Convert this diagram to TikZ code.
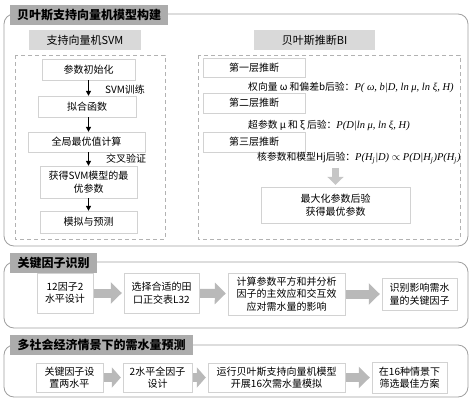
\documentclass[tikz,border=0pt]{standalone}
\usepackage{amsmath, amssymb}
\usepackage{fontspec}
\setmainfont{Noto Sans CJK SC}
\newfontfamily\latfont{Liberation Serif}
\usetikzlibrary{arrows.meta, calc, positioning}

\begin{document}
\begin{tikzpicture}[x=1pt, y=-1pt,
		box/.style={draw=gray!35, fill=white, align=center, inner sep=1pt, font=\fontsize{10}{12.5}\selectfont},
		bar/.style={fill=gray!65, inner sep=0pt, font=\bfseries\fontsize{12}{14}\selectfont},
		subbar/.style={fill=gray!30, inner sep=0pt, font=\fontsize{11}{13}\selectfont},
		panel/.style={draw=gray!75, line width=0.8pt, rounded corners=10pt},
		frame/.style={draw=gray!60, dash pattern=on 4pt off 3pt},
		lab/.style={inner sep=0pt, font=\fontsize{9.8}{11}\selectfont},
		fatarrow/.style={draw=gray!55, line width=9pt, -{Triangle[length=11pt,width=21pt]}, shorten <=1pt, shorten >=2pt},
		thinarrow/.style={line width=1.2pt, -{Triangle[length=5pt,width=5pt]}}
	]
	\useasboundingbox (0,0) rectangle (474,402);
	
	% Panels
	\draw[panel] (4,14) rectangle (468,246);
	\draw[panel] (4,262) rectangle (468,328);
	\draw[panel] (4,345) rectangle (468,397);
	\node[bar, minimum width=158pt, minimum height=20pt] (head1) at (89,15) {贝叶斯支持向量机模型构建};
	\node[bar, minimum width=87pt, minimum height=20pt] (head2) at (53.5,263) {关键因子识别};
	\node[bar, minimum width=183pt, minimum height=20pt] (head3) at (101.5,345) {多社会经济情景下的需水量预测};
	
	% SVM part
	\draw[frame] (15,55) rectangle (165,239);
	\node[subbar, minimum width=112pt, minimum height=20pt] (svm) at (85,40) {支持向量机SVM};
	\node[box, minimum width=93pt, minimum height=21pt] (init) at (88.5,69.5) {参数初始化};
	\node[box, minimum width=98pt, minimum height=21pt] (fit) at (87,106.5) {拟合函数};
	\node[box, minimum width=117pt, minimum height=20pt] (glob) at (86.5,142) {全局最优值计算};
	\node[box, minimum width=97pt, minimum height=32pt] (best) at (88.5,182) {获得SVM模型的最\\优参数};
	\node[box, minimum width=97pt, minimum height=22pt] (pred) at (88.5,222) {模拟与预测};
	\draw[thinarrow] (init.south) -- (init.south |- fit.north);
	\draw[thinarrow] (init.south |- fit.south) -- (init.south |- glob.north);
	\draw[thinarrow] (best.north |- glob.south) -- (best.north);
	\draw[thinarrow] (best.south) -- (pred.north);
	\node[lab, font=\fontsize{10}{12}\selectfont] (train) at (125,90) {SVM训练};
	\node[lab, font=\fontsize{10}{12}\selectfont] (cross) at (126,159) {交叉验证};
	
	% BI part
	\draw[frame] (198,55) rectangle (460,239);
	\node[subbar, minimum width=121pt, minimum height=20pt] (bi) at (314.5,40) {贝叶斯推断BI};
	\node[box, minimum width=102pt, minimum height=19pt] (lay1) at (254,67.5) {第一层推断};
	\node[lab, anchor=west] (post1) at (248,87) {权向量 ω 和偏差b后验：{\latfont\itshape\fontsize{10.5}{11}\selectfont P( ω, b|D, ln μ, ln ξ, H)}};
	\node[box, minimum width=102pt, minimum height=20pt] (lay2) at (254,103) {第二层推断};
	\node[lab, anchor=west] (post2) at (248,125) {超参数 μ 和 ξ 后验：{\latfont\itshape\fontsize{10.5}{11}\selectfont P(D|ln μ, ln ξ, H)}};
	\node[box, minimum width=102pt, minimum height=20pt] (lay3) at (254,142) {第三层推断};
	\node[lab, anchor=west] (post3) at (257,158) {核参数和模型Hj后验：{\latfont\itshape\fontsize{10.5}{11}\selectfont P(H\textsubscript{j}|D) $\propto$ P(D|H\textsubscript{j})P(H\textsubscript{j})}};
	\node[box, minimum width=149pt, minimum height=36pt] (maxp) at (335.5,205) {最大化参数后验\\获得最优参数};
	\draw[fatarrow, draw=gray!45, line width=7pt, -{Triangle[length=8pt,width=16pt]}] (maxp.north |- post3.south) ++(0,3) -- (maxp.north);
	
	% Key factors
	\node[box, minimum width=56pt, minimum height=40pt] (fac1) at (65,293) {12因子2\\水平设计};
	\node[box, minimum width=75pt, minimum height=40pt] (fac2) at (161.5,293) {选择合适的田\\口正交表L32};
	\node[box, minimum width=117pt, minimum height=42pt] (fac3) at (286.5,294) {计算参数平方和并分析\\因子的主效应和交互效\\应对需水量的影响};
	\node[box, minimum width=75pt, minimum height=32pt] (fac4) at (419.5,294) {识别影响需水\\量的关键因子};
	\draw[fatarrow] (fac1) -- (fac2);
	\draw[fatarrow] (fac2) -- (fac3);
	\draw[fatarrow] (fac3) -- (fac4);
	
	% Scenarios
	\node[box, minimum width=67pt, minimum height=29pt] (sce1) at (69.5,377.5) {关键因子设\\置两水平};
	\node[box, minimum width=69pt, minimum height=29pt] (sce2) at (157.5,377.5) {2水平全因子\\设计};
	\node[box, minimum width=137pt, minimum height=29pt] (sce3) at (276.5,377.5) {运行贝叶斯支持向量机模型\\开展16次需水量模拟};
	\node[box, minimum width=75pt, minimum height=31pt] (sce4) at (409.5,377.5) {在16种情景下\\筛选最佳方案};
	\draw[fatarrow, -{Triangle[length=9pt,width=20pt]}] (sce1) -- (sce2);
	\draw[fatarrow, -{Triangle[length=9pt,width=20pt]}] (sce2) -- (sce3);
	\draw[fatarrow] (sce3) -- (sce4);
\end{tikzpicture}
\end{document}
